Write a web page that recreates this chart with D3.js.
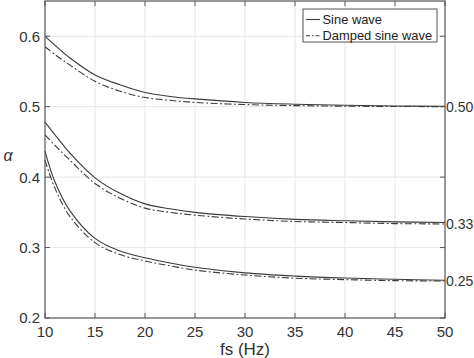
<!DOCTYPE html>
<html>
<head>
<meta charset="utf-8">
<script src="https://cdn.jsdelivr.net/npm/d3@7"></script>
<style>
  html, body { margin: 0; padding: 0; background: #fff; }
  svg { display: block; font-family: "Liberation Sans", Arial, sans-serif; }
</style>
</head>
<body>
<svg id="chart" width="474" height="358"></svg>
<script>
// ---- data ----
const fs = [10, 11, 12.5, 15, 17.5, 20, 22.5, 25, 30, 35, 40, 45, 50];

const sineTop    = [0.600, 0.587, 0.569, 0.545, 0.531, 0.520, 0.5145, 0.511, 0.506, 0.5035, 0.502, 0.501, 0.5005];
const dampedTop  = [0.585, 0.574, 0.559, 0.536, 0.522, 0.513, 0.509, 0.506, 0.503, 0.5015, 0.5007, 0.5003, 0.500];

const sineMid    = [0.478, 0.460, 0.434, 0.399, 0.377, 0.362, 0.355, 0.350, 0.344, 0.340, 0.338, 0.3365, 0.3355];
const dampedMid  = [0.460, 0.445, 0.424, 0.391, 0.370, 0.356, 0.350, 0.346, 0.3405, 0.337, 0.3355, 0.334, 0.3335];

const sineBot    = [0.437, 0.393, 0.352, 0.313, 0.295, 0.2855, 0.278, 0.272, 0.264, 0.2595, 0.2567, 0.255, 0.2535];
const dampedBot  = [0.424, 0.384, 0.344, 0.307, 0.290, 0.281, 0.274, 0.268, 0.261, 0.2565, 0.2545, 0.253, 0.2525];

const xTicks = [10, 15, 20, 25, 30, 35, 40, 45, 50];
const yTicks = [0.2, 0.3, 0.4, 0.5, 0.6];
const endLabels = [{v: 0.5, t: "0.50"}, {v: 0.3335, t: "0.33"}, {v: 0.2525, t: "0.25"}];
const legendItems = ["Sine wave", "Damped sine wave"];

// ---- layout ----
const svg = d3.select("#chart");
const L = 45, R = 445, T = 1, B = 318;
const x = d3.scaleLinear().domain([10, 50]).range([L, R]);
const y = d3.scaleLinear().domain([0.2, 0.65]).range([B, T]);

const axisCol = "#555";
const lineCol = "#3a3a3a";
const dashDot = "7,2.5,1.8,2.5";

// grid
const g = svg.append("g");
g.selectAll(".vg").data(xTicks.slice(1, -1)).join("line")
  .attr("x1", d => x(d)).attr("x2", d => x(d)).attr("y1", T).attr("y2", B)
  .attr("stroke", "#e6e6e6").attr("stroke-width", 1);
g.selectAll(".hg").data(yTicks.slice(1)).join("line")
  .attr("y1", d => y(d)).attr("y2", d => y(d)).attr("x1", L).attr("x2", R)
  .attr("stroke", "#e6e6e6").attr("stroke-width", 1);

// curves
const line = d3.line().x((d, i) => x(fs[i])).y(d => y(d)).curve(d3.curveCatmullRom.alpha(0.5));
const series = [
  {v: sineTop, dash: null}, {v: dampedTop, dash: dashDot},
  {v: sineMid, dash: null}, {v: dampedMid, dash: dashDot},
  {v: sineBot, dash: null}, {v: dampedBot, dash: dashDot}
];
svg.append("g").selectAll("path").data(series).join("path")
  .attr("d", d => line(d.v))
  .attr("fill", "none")
  .attr("stroke", lineCol)
  .attr("stroke-width", 1.1)
  .attr("stroke-dasharray", d => d.dash);

// axes (box with inward ticks on all sides)
const tl = 5;
const ax = svg.append("g");
ax.append("rect").attr("x", L).attr("y", T).attr("width", R - L).attr("height", B - T)
  .attr("fill", "none").attr("stroke", axisCol).attr("stroke-width", 1.2);
ax.selectAll(".xtb").data(xTicks).join("line")
  .attr("x1", d => x(d)).attr("x2", d => x(d)).attr("y1", B).attr("y2", B - tl)
  .attr("stroke", axisCol);
ax.selectAll(".xtt").data(xTicks).join("line")
  .attr("x1", d => x(d)).attr("x2", d => x(d)).attr("y1", T).attr("y2", T + tl)
  .attr("stroke", axisCol);
ax.selectAll(".ytl").data(yTicks).join("line")
  .attr("y1", d => y(d)).attr("y2", d => y(d)).attr("x1", L).attr("x2", L + tl)
  .attr("stroke", axisCol);
ax.selectAll(".ytr").data(yTicks).join("line")
  .attr("y1", d => y(d)).attr("y2", d => y(d)).attr("x1", R).attr("x2", R - tl)
  .attr("stroke", axisCol);

// tick labels
const txtCol = "#333";
svg.append("g").selectAll("text").data(xTicks).join("text")
  .attr("x", d => x(d)).attr("y", 337)
  .attr("text-anchor", "middle").attr("font-size", 15).attr("fill", txtCol)
  .text(d => d);
svg.append("g").selectAll("text").data(yTicks).join("text")
  .attr("x", 40).attr("y", d => y(d)).attr("dy", "0.36em")
  .attr("text-anchor", "end").attr("font-size", 15).attr("fill", txtCol)
  .text(d => d3.format(".1f")(d));

// axis titles
svg.append("text").attr("x", 245).attr("y", 355)
  .attr("text-anchor", "middle").attr("font-size", 17).attr("fill", txtCol)
  .text("fs (Hz)");
svg.append("text").attr("x", 8).attr("y", 155).attr("dy", "0.36em")
  .attr("text-anchor", "middle").attr("font-size", 16).attr("font-style", "italic")
  .attr("fill", txtCol).text("α");

// end labels
svg.append("g").selectAll("text").data(endLabels).join("text")
  .attr("x", 446).attr("y", d => y(d.v)).attr("dy", "0.36em")
  .attr("font-size", 14).attr("fill", txtCol)
  .text(d => d.t);

// legend
const lg = svg.append("g");
lg.append("rect").attr("x", 303).attr("y", 9).attr("width", 134).attr("height", 33)
  .attr("fill", "#fff").attr("stroke", axisCol).attr("stroke-width", 1);
legendItems.forEach((name, i) => {
  const cy = 19.5 + i * 16.3;
  lg.append("line").attr("x1", 306).attr("x2", 320).attr("y1", cy).attr("y2", cy)
    .attr("stroke", lineCol).attr("stroke-width", 1.1)
    .attr("stroke-dasharray", i === 1 ? "4,2,1.5,2" : null);
  lg.append("text").attr("x", 322.5).attr("y", cy).attr("dy", "0.36em")
    .attr("font-size", 12.9).attr("fill", "#222").text(name);
});
</script>
</body>
</html>
